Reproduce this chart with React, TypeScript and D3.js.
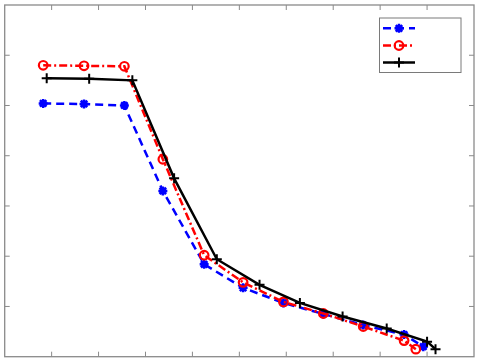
import { useEffect, useRef } from "react";
import * as d3 from "d3";

// x positions (axis units 0..10) and values (axis units 0..7)
const blueX = [0.82, 1.69, 2.55, 3.37, 4.25, 5.08, 5.94, 6.79, 7.64, 8.51, 8.92];
const blueY = [5.04, 5.03, 5.0, 3.3, 1.84, 1.37, 1.07, 0.85, 0.63, 0.44, 0.2];

const redX = [0.82, 1.69, 2.55, 3.37, 4.25, 5.08, 5.94, 6.79, 7.64, 8.51, 8.76];
const redY = [5.8, 5.79, 5.78, 3.93, 2.02, 1.48, 1.09, 0.86, 0.6, 0.32, 0.15];

const blackX = [0.895, 1.8, 2.72, 3.61, 4.52, 5.43, 6.29, 7.2, 8.14, 9.0, 9.18];
const blackY = [5.54, 5.53, 5.5, 3.55, 1.94, 1.43, 1.07, 0.8, 0.56, 0.3, 0.15];

const xTicks = [1, 2, 3, 4, 5, 6, 7, 8, 9];
const yTicks = [1, 2, 3, 4, 5, 6];

type Series = {
  xs: number[];
  ys: number[];
  color: string;
  dash: string | null;
  marker: "star" | "circle" | "plus";
};

const series: Series[] = [
  { xs: blueX, ys: blueY, color: "#0000ff", dash: "8,5", marker: "star" },
  { xs: redX, ys: redY, color: "#ff0000", dash: "8,3,2,3", marker: "circle" },
  { xs: blackX, ys: blackY, color: "#000000", dash: null, marker: "plus" },
];

function drawMarker(
  g: d3.Selection<SVGGElement, unknown, null, undefined>,
  kind: Series["marker"],
  cx: number,
  cy: number,
  color: string
) {
  if (kind === "circle") {
    g.append("circle")
      .attr("cx", cx)
      .attr("cy", cy)
      .attr("r", 4.3)
      .attr("fill", "none")
      .attr("stroke", color)
      .attr("stroke-width", 2.2);
  } else if (kind === "plus") {
    const s = 5;
    g.append("path")
      .attr("d", `M${cx - s},${cy}H${cx + s}M${cx},${cy - s}V${cy + s}`)
      .attr("stroke", color)
      .attr("stroke-width", 2)
      .attr("fill", "none");
  } else {
    const s = 4.5;
    const d = s * 0.72;
    g.append("path")
      .attr(
        "d",
        `M${cx - s},${cy}H${cx + s}M${cx},${cy - s}V${cy + s}` +
          `M${cx - d},${cy - d}L${cx + d},${cy + d}M${cx - d},${cy + d}L${cx + d},${cy - d}`
      )
      .attr("stroke", color)
      .attr("stroke-width", 2.5)
      .attr("fill", "none");
    g.append("circle")
      .attr("cx", cx)
      .attr("cy", cy)
      .attr("r", 3.5)
      .attr("fill", color);
  }
}

export default function App() {
  const ref = useRef<SVGSVGElement | null>(null);

  useEffect(() => {
    const width = 480;
    const height = 363;
    const box = { left: 4.7, right: 474, top: 5, bottom: 356.7 };

    const svg = d3.select(ref.current);
    svg.selectAll("*").remove();

    svg
      .append("rect")
      .attr("width", width)
      .attr("height", height)
      .attr("fill", "#fff");

    const x = d3.scaleLinear().domain([0, 10]).range([box.left, box.right]);
    const y = d3.scaleLinear().domain([0, 7]).range([box.bottom, box.top]);

    const axisColor = "#8a8a8a";
    const tl = 5;

    // ticks on all four sides, pointing in
    const ticks = svg.append("g").attr("stroke", axisColor).attr("stroke-width", 1);
    xTicks.forEach((t) => {
      ticks.append("line").attr("x1", x(t)).attr("x2", x(t)).attr("y1", box.bottom).attr("y2", box.bottom - tl);
      ticks.append("line").attr("x1", x(t)).attr("x2", x(t)).attr("y1", box.top).attr("y2", box.top + tl);
    });
    yTicks.forEach((t) => {
      ticks.append("line").attr("x1", box.left).attr("x2", box.left + tl).attr("y1", y(t)).attr("y2", y(t));
      ticks.append("line").attr("x1", box.right).attr("x2", box.right - tl).attr("y1", y(t)).attr("y2", y(t));
    });

    const line = d3
      .line<[number, number]>()
      .x((d) => x(d[0]))
      .y((d) => y(d[1]));

    series.forEach((s) => {
      const pts = s.xs.map((v, i) => [v, s.ys[i]] as [number, number]);
      svg
        .append("path")
        .datum(pts)
        .attr("fill", "none")
        .attr("stroke", s.color)
        .attr("stroke-width", 2.5)
        .attr("stroke-dasharray", s.dash)
        .attr("d", line);
      const g = svg.append("g");
      pts.forEach((p) => drawMarker(g, s.marker, x(p[0]), y(p[1]), s.color));
    });

    // frame
    svg
      .append("rect")
      .attr("x", box.left)
      .attr("y", box.top)
      .attr("width", box.right - box.left)
      .attr("height", box.bottom - box.top)
      .attr("fill", "none")
      .attr("stroke", axisColor)
      .attr("stroke-width", 1.3);

    // legend (entries have no labels)
    const lg = svg.append("g");
    lg.append("rect")
      .attr("x", 379.5)
      .attr("y", 18)
      .attr("width", 81.5)
      .attr("height", 54.5)
      .attr("fill", "#fff")
      .attr("stroke", "#7a7a7a")
      .attr("stroke-width", 1);
    const rowY = [28.3, 45.5, 62.5];
    series.forEach((s, i) => {
      lg.append("line")
        .attr("x1", 383)
        .attr("x2", 415)
        .attr("y1", rowY[i])
        .attr("y2", rowY[i])
        .attr("stroke", s.color)
        .attr("stroke-width", 2.5)
        .attr("stroke-dasharray", s.dash);
      drawMarker(lg, s.marker, 399, rowY[i], s.color);
    });
  }, []);

  return (
    <svg
      ref={ref}
      width={480}
      height={363}
      style={{ position: "fixed", left: 0, top: 0, display: "block" }}
    />
  );
}
